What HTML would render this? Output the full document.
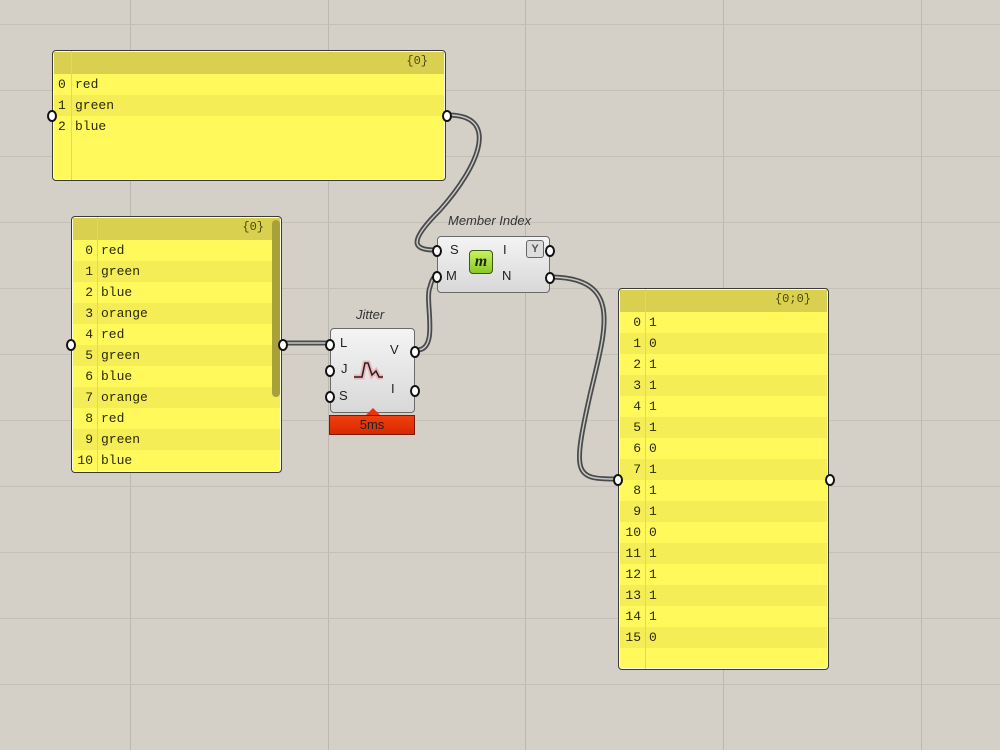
<!DOCTYPE html>
<html><head><meta charset="utf-8">
<style>
body{margin:0;width:1000px;height:750px;overflow:hidden;background:#d4d0c8;position:relative;font-family:"Liberation Sans",sans-serif}
.gv{position:absolute;top:0;width:1px;height:750px;background:#bdb9b1}
.gh{position:absolute;left:0;height:1px;width:1000px;background:#c4c0b8}
.p{position:absolute;border:1px solid #3a3a3a;border-radius:4px;background:#fff95c;overflow:hidden;box-shadow:inset 0 0 0 1px #fffde0}
.hd{position:absolute;left:1px;right:1px;top:1px;background:#d8d04e}
.hd span{position:absolute;right:16px;top:2px;font:12px "Liberation Mono",monospace;color:#4a4a10}
.r{position:absolute;left:1px;right:1px;height:21px;font:13px/21px "Liberation Mono",monospace;color:#2a2a08}
.r.a{background:#f4ed55}
.r i{font-style:normal;position:absolute;text-align:right}
.r b{font-weight:normal;position:absolute}
.sep{position:absolute;width:1px;background:#e2da50}
.grip{position:absolute;width:6px;height:8px;border:2px solid #111;border-radius:50%;background:#fff}
.c{position:absolute;border:1px solid #6a6a6a;border-radius:4px;background:linear-gradient(#f4f4f4,#d8d8d8)}
.lb{position:absolute;font:13px "Liberation Sans",sans-serif;color:#222}
.ti{position:absolute;font:italic 13px "Liberation Sans",sans-serif;color:#333}
</style></head><body>
<div class="gv" style="left:130px"></div><div class="gv" style="left:328px"></div><div class="gv" style="left:525px"></div><div class="gv" style="left:723px"></div><div class="gv" style="left:921px"></div>
<div class="gh" style="top:24px"></div><div class="gh" style="top:90px"></div><div class="gh" style="top:156px"></div><div class="gh" style="top:222px"></div><div class="gh" style="top:288px"></div><div class="gh" style="top:354px"></div><div class="gh" style="top:420px"></div><div class="gh" style="top:486px"></div><div class="gh" style="top:552px"></div><div class="gh" style="top:618px"></div><div class="gh" style="top:684px"></div>

<svg width="1000" height="750" style="position:absolute;left:0;top:0">
<g fill="none" stroke-linecap="round">
<g stroke="#4a4a4a" stroke-width="5">
<path d="M448,115 C500,115 480,165 440,210 C405,245 415,250 437,250"/>
<path d="M285,343 L327,343"/>
<path d="M417,350 C440,350 424,300 430,287 C432,279 434,276 437,276"/>
<path d="M549,277 C625,277 605,330 590,395 C572,475 575,479 615,479"/>
</g>
<g stroke="#c8c8c8" stroke-width="1.5">
<path d="M448,115 C500,115 480,165 440,210 C405,245 415,250 437,250"/>
<path d="M285,343 L327,343"/>
<path d="M417,350 C440,350 424,300 430,287 C432,279 434,276 437,276"/>
<path d="M549,277 C625,277 605,330 590,395 C572,475 575,479 615,479"/>
</g></g></svg>

<!-- top panel -->
<div class="p" style="left:52px;top:50px;width:392px;height:129px">
<div class="hd" style="height:22px"><span>{0}</span></div>
<div class="r" style="top:23px"><i style="left:4px">0</i><b style="left:21px">red</b></div>
<div class="r a" style="top:44px"><i style="left:4px">1</i><b style="left:21px">green</b></div>
<div class="r" style="top:65px"><i style="left:4px">2</i><b style="left:21px">blue</b></div>
<div class="sep" style="left:18px;top:0;height:129px"></div>
</div>
<div class="grip" style="left:47px;top:110px"></div><div class="grip" style="left:442px;top:110px"></div>

<!-- left panel -->
<div class="p" style="left:71px;top:216px;width:209px;height:255px">
<div class="hd" style="height:22px"><span>{0}</span></div>
<div class="r" style="top:23px"><i style="right:187px">0</i><b style="left:28px">red</b></div>
<div class="r a" style="top:44px"><i style="right:187px">1</i><b style="left:28px">green</b></div>
<div class="r" style="top:65px"><i style="right:187px">2</i><b style="left:28px">blue</b></div>
<div class="r a" style="top:86px"><i style="right:187px">3</i><b style="left:28px">orange</b></div>
<div class="r" style="top:107px"><i style="right:187px">4</i><b style="left:28px">red</b></div>
<div class="r a" style="top:128px"><i style="right:187px">5</i><b style="left:28px">green</b></div>
<div class="r" style="top:149px"><i style="right:187px">6</i><b style="left:28px">blue</b></div>
<div class="r a" style="top:170px"><i style="right:187px">7</i><b style="left:28px">orange</b></div>
<div class="r" style="top:191px"><i style="right:187px">8</i><b style="left:28px">red</b></div>
<div class="r a" style="top:212px"><i style="right:187px">9</i><b style="left:28px">green</b></div>
<div class="r" style="top:233px"><i style="right:187px">10</i><b style="left:28px">blue</b></div>
<div class="sep" style="left:25px;top:0;height:255px"></div>
<div style="position:absolute;left:200px;top:3px;width:8px;height:177px;border-radius:4px;background:#a8a03a"></div>
</div>
<div class="grip" style="left:66px;top:339px"></div><div class="grip" style="left:278px;top:339px"></div>

<!-- right panel -->
<div class="p" style="left:618px;top:288px;width:209px;height:380px">
<div class="hd" style="height:22px"><span>{0;0}</span></div>
<div class="r" style="top:23px"><i style="right:186px">0</i><b style="left:29px">1</b></div>
<div class="r a" style="top:44px"><i style="right:186px">1</i><b style="left:29px">0</b></div>
<div class="r" style="top:65px"><i style="right:186px">2</i><b style="left:29px">1</b></div>
<div class="r a" style="top:86px"><i style="right:186px">3</i><b style="left:29px">1</b></div>
<div class="r" style="top:107px"><i style="right:186px">4</i><b style="left:29px">1</b></div>
<div class="r a" style="top:128px"><i style="right:186px">5</i><b style="left:29px">1</b></div>
<div class="r" style="top:149px"><i style="right:186px">6</i><b style="left:29px">0</b></div>
<div class="r a" style="top:170px"><i style="right:186px">7</i><b style="left:29px">1</b></div>
<div class="r" style="top:191px"><i style="right:186px">8</i><b style="left:29px">1</b></div>
<div class="r a" style="top:212px"><i style="right:186px">9</i><b style="left:29px">1</b></div>
<div class="r" style="top:233px"><i style="right:186px">10</i><b style="left:29px">0</b></div>
<div class="r a" style="top:254px"><i style="right:186px">11</i><b style="left:29px">1</b></div>
<div class="r" style="top:275px"><i style="right:186px">12</i><b style="left:29px">1</b></div>
<div class="r a" style="top:296px"><i style="right:186px">13</i><b style="left:29px">1</b></div>
<div class="r" style="top:317px"><i style="right:186px">14</i><b style="left:29px">1</b></div>
<div class="r a" style="top:338px"><i style="right:186px">15</i><b style="left:29px">0</b></div>
<div class="sep" style="left:26px;top:0;height:380px"></div>
</div>
<div class="grip" style="left:613px;top:474px"></div><div class="grip" style="left:825px;top:474px"></div>

<!-- Member Index -->
<div class="ti" style="left:448px;top:213px">Member Index</div>
<div class="c" style="left:437px;top:236px;width:111px;height:55px"></div>
<div class="lb" style="left:450px;top:242px">S</div>
<div class="lb" style="left:446px;top:268px">M</div>
<div class="lb" style="left:503px;top:242px">I</div>
<div class="lb" style="left:502px;top:268px">N</div>
<div style="position:absolute;left:469px;top:250px;width:22px;height:22px;border:1px solid #3a5a10;border-radius:4px;background:linear-gradient(#c8f060,#8cc828);font:bold italic 16px/21px 'Liberation Serif',serif;color:#1a2a00;text-align:center">m</div>
<div style="position:absolute;left:526px;top:240px;width:16px;height:16px;border:1px solid #666;border-radius:3px;background:#ddd;font:bold 11px/16px 'Liberation Sans';color:#555;text-align:center">Y</div>
<div class="grip" style="left:432px;top:245px"></div><div class="grip" style="left:432px;top:271px"></div>
<div class="grip" style="left:545px;top:245px"></div><div class="grip" style="left:545px;top:272px"></div>

<!-- Jitter -->
<div class="ti" style="left:356px;top:307px">Jitter</div>
<div class="c" style="left:330px;top:328px;width:83px;height:83px"></div>
<div class="lb" style="left:340px;top:335px">L</div>
<div class="lb" style="left:341px;top:361px">J</div>
<div class="lb" style="left:339px;top:388px">S</div>
<div class="lb" style="left:390px;top:342px">V</div>
<div class="lb" style="left:391px;top:381px">I</div>
<svg style="position:absolute;left:352px;top:357px" width="32" height="26"><path d="M2,20 L10,20 L13,6 L16,6 L20,18 L24,14 L27,20 L31,20" fill="none" stroke="#f4a0a8" stroke-width="5" opacity="0.7"/><path d="M2,20 L10,20 L13,6 L16,6 L20,18 L24,14 L27,20 L31,20" fill="none" stroke="#222" stroke-width="1.5"/></svg>
<div style="position:absolute;left:329px;top:415px;width:84px;height:18px;border:1px solid #7a1a00;background:linear-gradient(#f04010,#d82800);font:13px/18px 'Liberation Sans';color:#222;text-align:center">5ms</div>
<div style="position:absolute;left:366px;top:408px;width:0;height:0;border-left:7px solid transparent;border-right:7px solid transparent;border-bottom:7px solid #e83408"></div>
<div class="grip" style="left:325px;top:339px"></div><div class="grip" style="left:325px;top:365px"></div><div class="grip" style="left:325px;top:391px"></div>
<div class="grip" style="left:410px;top:346px"></div><div class="grip" style="left:410px;top:385px"></div>
</body></html>
